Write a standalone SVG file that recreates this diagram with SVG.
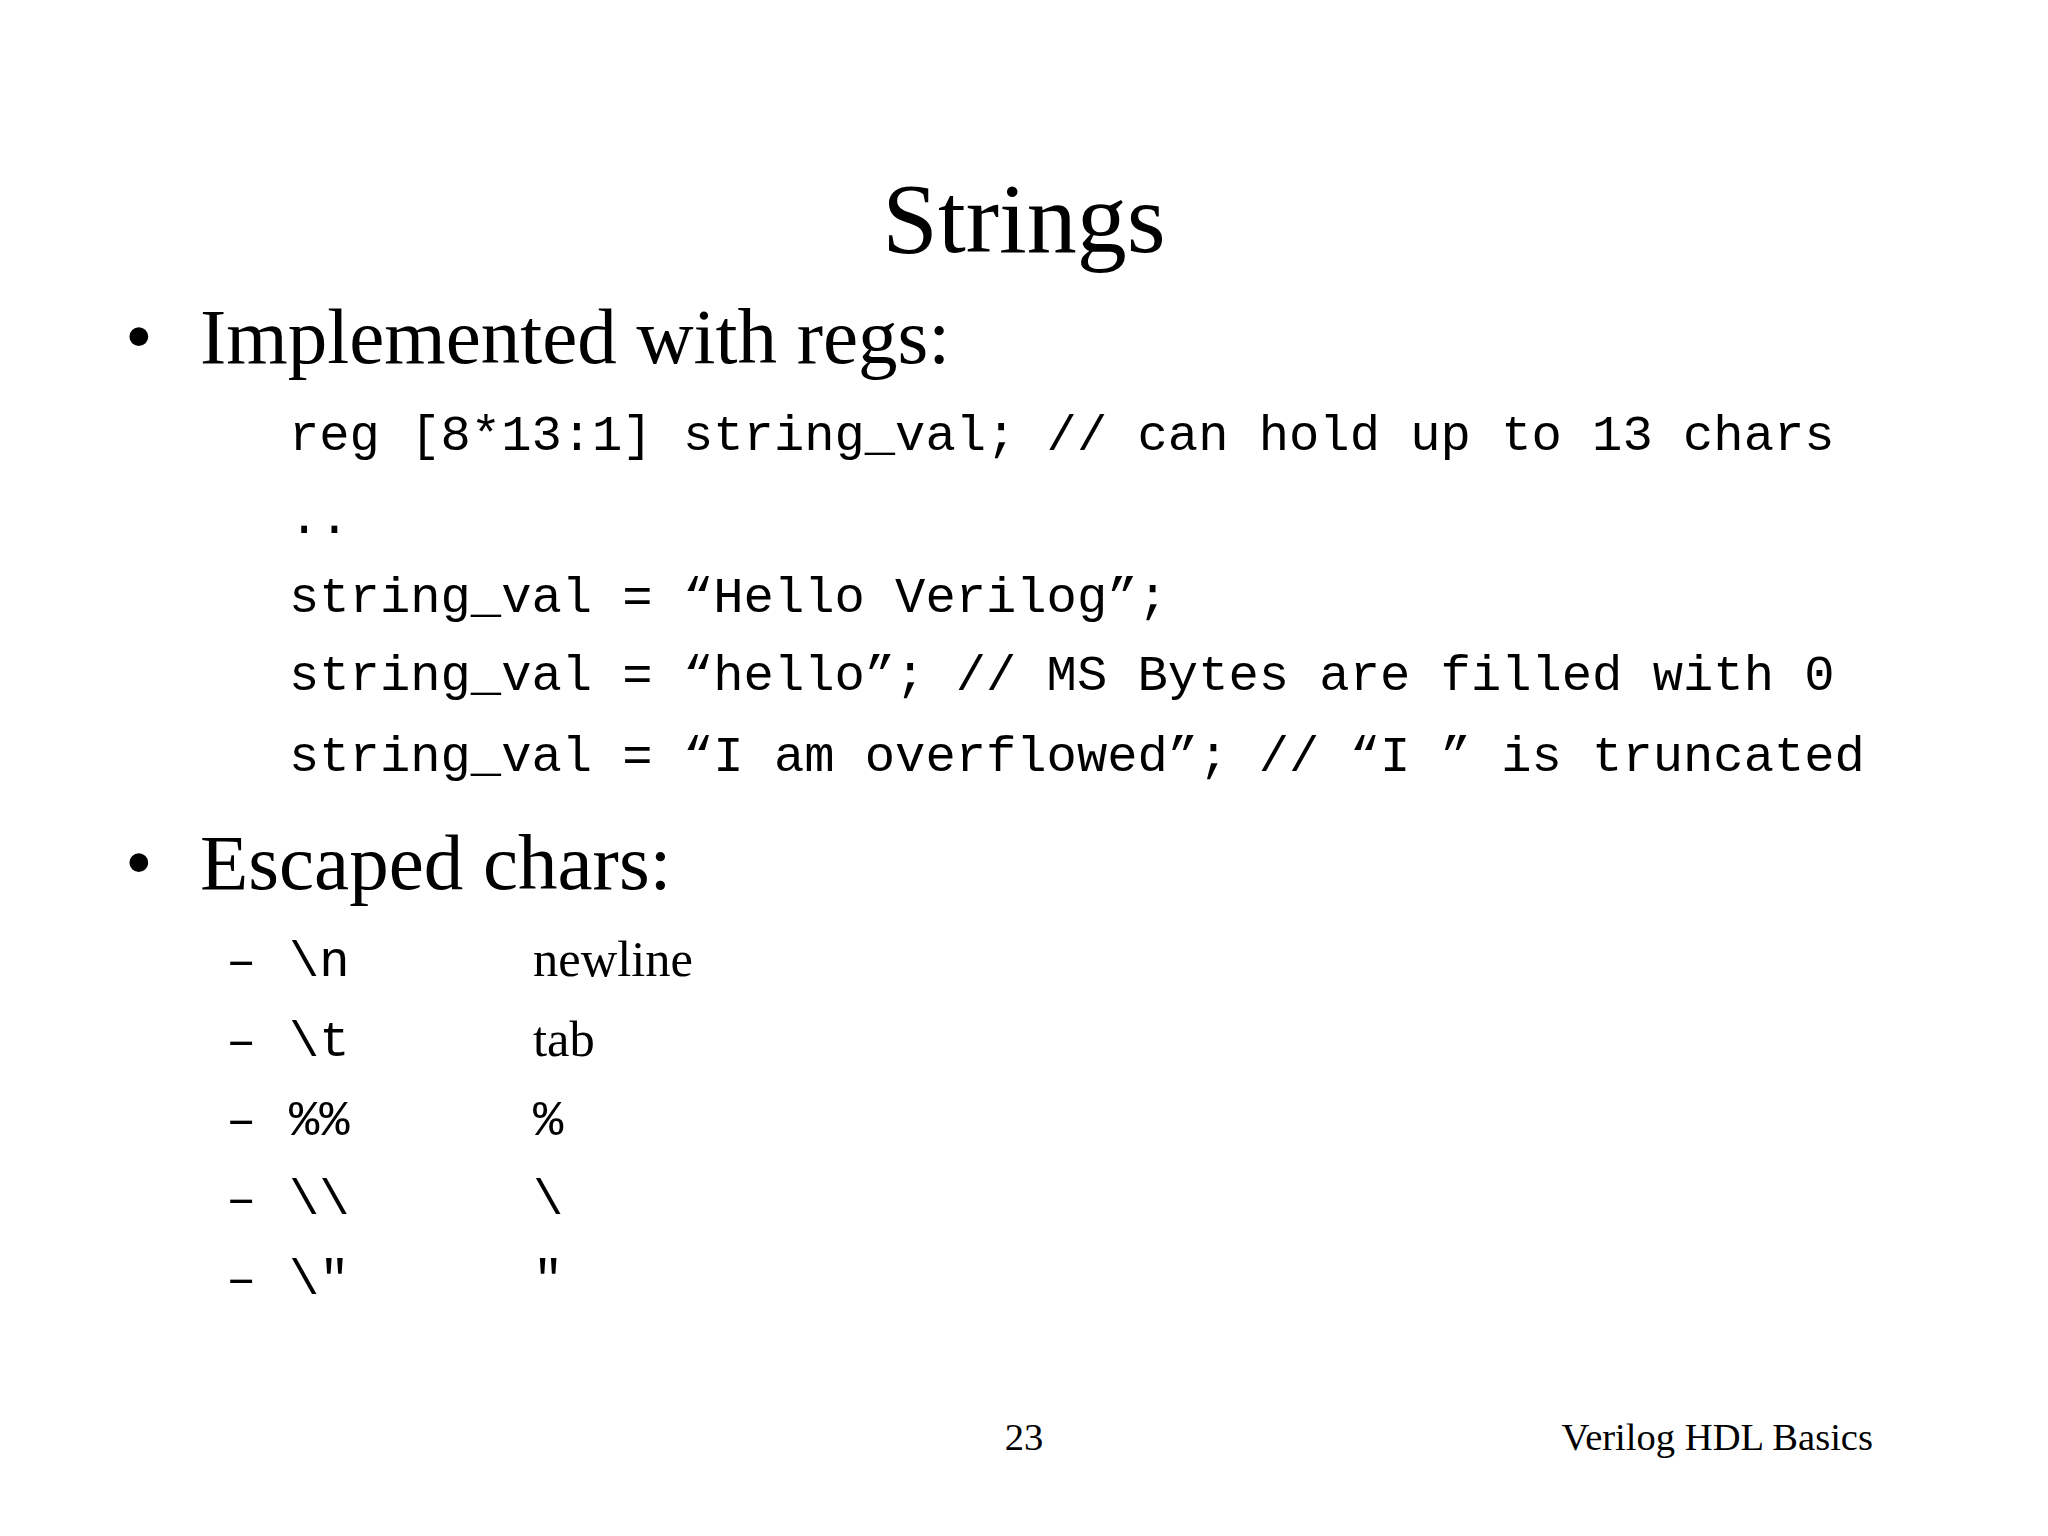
<svg xmlns="http://www.w3.org/2000/svg" width="2048" height="1536" viewBox="0 0 2048 1536">
<style>
.t{font-family:"Liberation Serif",serif;fill:#000}
.m{font-family:"Liberation Mono",monospace;font-size:50.5px;fill:#000;white-space:pre}
</style>
<rect width="2048" height="1536" fill="#fff"/>
<g id="title"><text class="t" x="1024" y="252" font-size="100" text-anchor="middle">Strings</text></g>
<g id="bullet1">
<text class="t" x="125" y="363" font-size="79">•</text>
<text class="t" x="200" y="363" font-size="79">Implemented with regs:</text>
<text class="m" x="289" y="450">reg [8*13:1] string_val; // can hold up to 13 chars</text>
<text class="m" x="289" y="533">..</text>
<text class="m" x="289" y="612">string_val = “Hello Verilog”;</text>
<text class="m" x="289" y="690">string_val = “hello”; // MS Bytes are filled with 0</text>
<text class="m" x="289" y="771">string_val = “I am overflowed”; // “I ” is truncated</text>
</g>
<g id="bullet2">
<text class="t" x="125" y="889" font-size="79">•</text>
<text class="t" x="200" y="889" font-size="79">Escaped chars:</text>
<text class="m" x="226" y="976">–</text><text class="m" x="289" y="976">\n</text><text class="t" x="533" y="976" font-size="50.5">newline</text>
<text class="m" x="226" y="1056">–</text><text class="m" x="289" y="1056">\t</text><text class="t" x="533" y="1056" font-size="50.5">tab</text>
<text class="m" x="226" y="1135">–</text><text class="m" x="289" y="1135">%%</text><text class="m" x="533" y="1135">%</text>
<text class="m" x="226" y="1214">–</text><text class="m" x="289" y="1214">\\</text><text class="m" x="533" y="1214">\</text>
<text class="m" x="226" y="1294">–</text><text class="m" x="289" y="1294">\"</text><text class="m" x="533" y="1294">"</text>
</g>
<g id="footer">
<text class="t" x="1024" y="1450" font-size="38.6" text-anchor="middle">23</text>
<text class="t" x="1873" y="1450" font-size="38.6" text-anchor="end">Verilog HDL Basics</text>
</g>
</svg>
